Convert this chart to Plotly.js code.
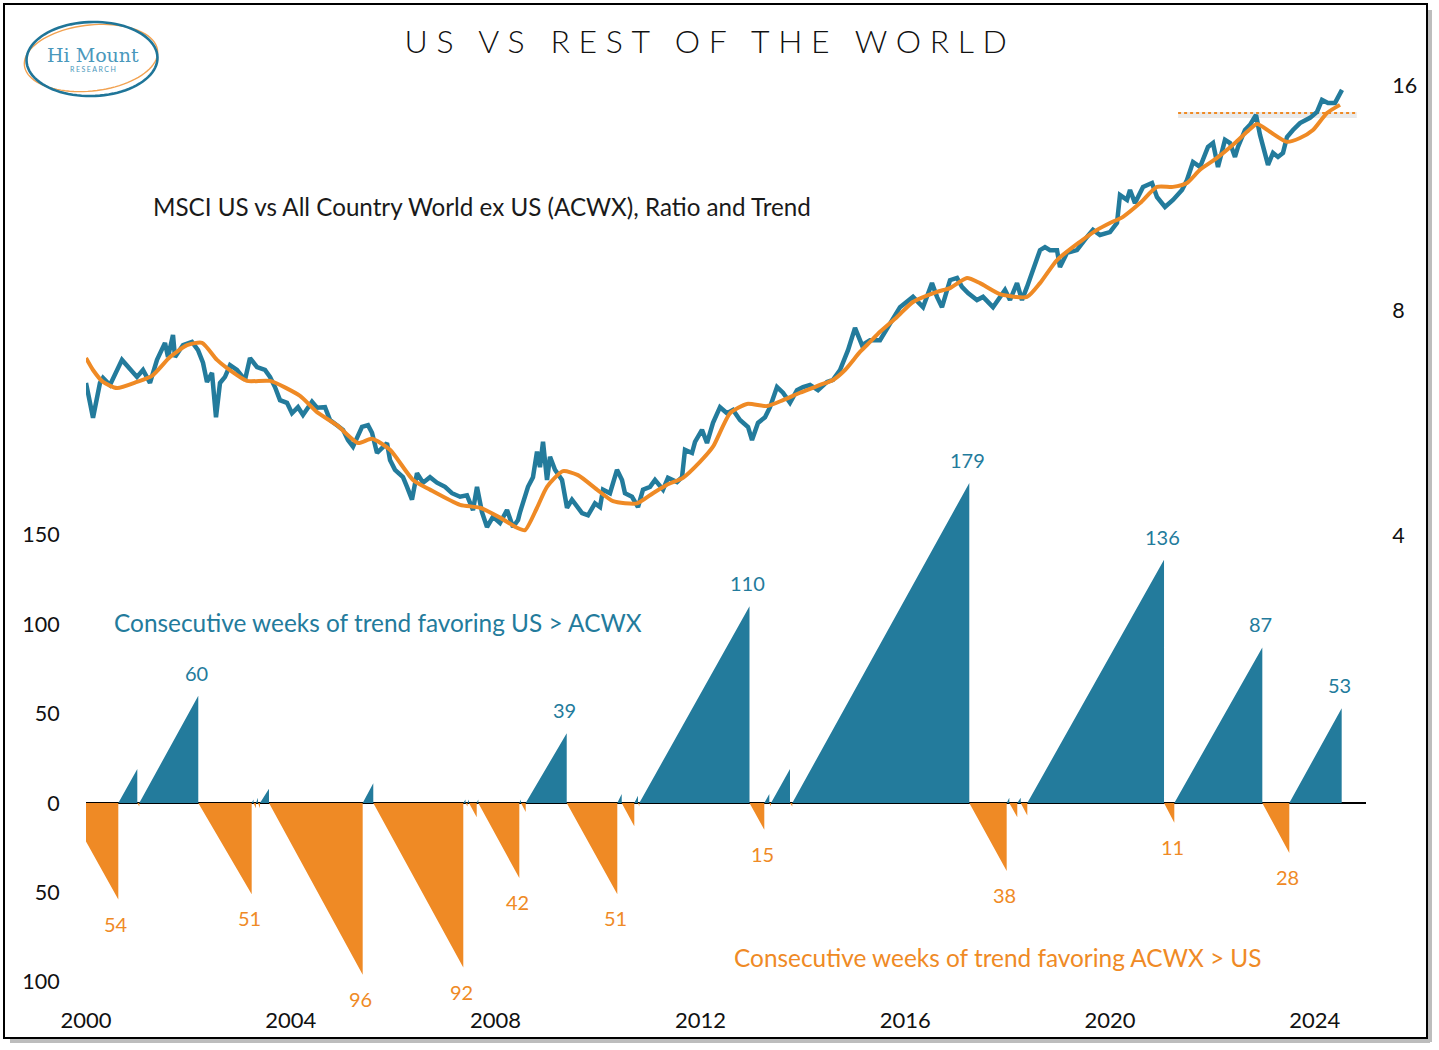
<!DOCTYPE html>
<html><head><meta charset="utf-8">
<script src="https://cdn.plot.ly/plotly-3.0.1.min.js"></script>
<style>html,body{margin:0;padding:0;background:#fff}#chart{width:1439px;height:1050px}</style>
</head><body><div id="chart"></div>
<script>
// ---------- DATA ----------
const ratioYears = [2000.000,2000.137,2000.273,2000.332,2000.469,2000.605,2000.703,2000.996,2001.113,2001.250,
2001.387,2001.543,2001.602,2001.699,2001.738,2001.895,2002.070,2002.188,2002.285,2002.363,
2002.461,2002.539,2002.617,2002.715,2002.813,2002.949,2003.105,2003.203,2003.340,2003.496,
2003.594,2003.691,2003.789,2003.926,2004.023,2004.141,2004.238,2004.414,2004.512,2004.668,
2004.766,2004.902,2005.020,2005.117,2005.215,2005.391,2005.508,2005.586,2005.684,2005.879,
2005.938,2006.035,2006.191,2006.270,2006.367,2006.465,2006.582,2006.719,2006.855,2007.012,
2007.148,2007.305,2007.441,2007.559,2007.637,2007.734,2007.832,2007.949,2008.086,2008.223,
2008.340,2008.438,2008.477,2008.633,2008.730,2008.809,2008.867,2008.926,2009.004,2009.063,
2009.160,2009.297,2009.395,2009.492,2009.688,2009.805,2009.941,2010.039,2010.098,2010.234,
2010.371,2010.469,2010.527,2010.664,2010.781,2010.879,2011.016,2011.113,2011.270,2011.367,
2011.543,2011.641,2011.699,2011.836,2011.895,2012.031,2012.129,2012.246,2012.383,2012.520,
2012.637,2012.773,2012.930,2013.008,2013.125,2013.262,2013.359,2013.496,2013.613,2013.750,
2013.887,2014.004,2014.141,2014.297,2014.473,2014.590,2014.727,2014.883,2015.020,2015.156,
2015.313,2015.508,2015.762,2015.898,2016.152,2016.348,2016.523,2016.621,2016.719,2016.875,
2017.012,2017.109,2017.227,2017.402,2017.520,2017.715,2017.949,2018.047,2018.184,2018.281,
2018.379,2018.496,2018.633,2018.730,2018.828,2018.965,2019.023,2019.160,2019.355,2019.551,
2019.668,2019.805,2020.000,2020.137,2020.195,2020.332,2020.391,2020.488,2020.645,2020.820,
2020.918,2021.074,2021.230,2021.406,2021.504,2021.621,2021.758,2021.914,2022.012,2022.109,
2022.246,2022.344,2022.441,2022.500,2022.637,2022.734,2022.852,2022.930,2023.027,2023.086,
2023.184,2023.281,2023.379,2023.457,2023.574,2023.711,2023.906,2024.043,2024.141,2024.258,
2024.395,2024.453,2024.531];
const ratioValues = [6.39,5.74,6.39,6.49,6.35,6.65,6.86,6.51,6.65,6.39,
6.86,7.23,6.92,7.41,6.92,7.18,7.25,7.07,6.80,6.41,
6.59,5.75,6.39,6.51,6.75,6.65,6.45,6.90,6.71,6.65,
6.51,6.31,6.06,6.01,5.82,5.93,5.79,6.03,5.92,5.93,
5.70,5.61,5.53,5.36,5.25,5.58,5.61,5.48,5.15,5.31,
5.04,4.89,4.78,4.64,4.46,4.84,4.70,4.78,4.70,4.64,
4.55,4.50,4.52,4.32,4.64,4.29,4.10,4.23,4.15,4.32,
4.10,4.19,4.29,4.64,4.78,5.17,4.93,5.33,4.74,5.09,
4.89,4.74,4.35,4.46,4.28,4.25,4.41,4.36,4.60,4.55,
4.89,4.74,4.55,4.50,4.36,4.60,4.64,4.74,4.60,4.77,
4.71,4.78,5.20,5.15,5.33,5.53,5.31,5.65,5.93,5.82,
5.88,5.70,5.58,5.36,5.65,5.75,5.93,6.31,6.20,6.01,
6.25,6.31,6.35,6.25,6.41,6.45,6.65,7.07,7.57,7.18,
7.29,7.29,7.76,8.07,8.33,8.07,8.69,8.33,8.07,8.77,
8.83,8.59,8.43,8.25,8.33,8.07,8.51,8.25,8.69,8.25,
8.59,9.05,9.62,9.71,9.62,9.62,9.13,9.54,9.62,10.02,
10.24,10.08,10.17,10.46,11.40,11.23,11.58,11.12,11.69,11.83,
11.33,10.99,11.23,11.58,11.94,12.62,12.43,13.22,13.38,12.43,
13.51,13.38,12.82,13.22,13.93,14.15,14.59,13.72,12.98,12.51,
12.98,12.82,12.98,13.63,13.93,14.23,14.46,14.73,15.28,15.14,
15.14,15.42,15.76];

const trendYears = [2000.000,2000.137,2000.332,2000.605,2000.996,2001.289,2001.641,2001.973,2002.266,2002.559,
2002.754,2003.145,2003.594,2004.180,2004.512,2004.902,2005.313,2005.586,2005.938,2006.387,
2006.719,2007.305,2007.695,2008.086,2008.418,2008.574,2008.809,2009.004,2009.316,2009.609,
2009.980,2010.293,2010.762,2011.074,2011.348,2011.660,2011.992,2012.246,2012.578,2012.910,
2013.301,2013.613,2013.945,2014.336,2014.590,2014.824,2015.117,2015.313,2015.508,2015.840,
2016.152,2016.621,2016.875,2017.207,2017.461,2017.852,2018.379,2018.633,2018.965,2019.414,
2019.746,2020.000,2020.254,2020.586,2020.918,2021.230,2021.504,2021.758,2022.090,2022.441,
2022.676,2022.871,2023.125,2023.457,2023.711,2023.965,2024.238,2024.492];
const trendValues = [6.90,6.65,6.41,6.29,6.41,6.53,6.92,7.18,7.23,6.86,
6.69,6.43,6.43,6.14,5.84,5.61,5.31,5.38,5.20,4.74,
4.60,4.39,4.35,4.22,4.09,4.06,4.35,4.64,4.87,4.81,
4.60,4.44,4.41,4.55,4.67,4.77,5.01,5.25,5.82,5.99,
5.95,6.06,6.20,6.35,6.45,6.65,7.03,7.25,7.48,7.83,
8.20,8.46,8.56,8.83,8.69,8.40,8.33,8.69,9.33,9.87,
10.24,10.46,10.66,11.12,11.69,11.69,11.83,12.32,12.78,13.38,
13.85,14.19,13.85,13.43,13.59,13.93,14.68,15.05];

// consecutive-week runs: each run starts where the previous one ends
const runFirstStart = 1999.58;
const runEnds = [2000.631,2001.002,2001.041,2002.193,2003.236,2003.271,2003.320,2003.359,2003.398,2003.574,
2005.404,2005.611,2007.369,2007.412,2007.451,2007.480,2007.631,2007.662,2008.463,2008.496,
2008.588,2009.389,2010.377,2010.463,2010.709,2010.781,2010.807,2012.959,2013.248,2013.346,
2013.379,2013.750,2013.795,2017.252,2017.982,2018.033,2018.189,2018.256,2018.385,2021.055,
2021.256,2022.975,2023.502,2024.525];
const runPeaks = [-54,19,-2,60,-51,2,-3,3,-3,8,
-96,11,-92,2,-2,2,-8,2,-42,2,
-5,39,-51,5,-13,4,-2,110,-15,5,
-2,19,-2,179,-38,3,-8,3,-7,136,
-11,87,-28,53];
const runShowLabel = [1,0,0,1,1,0,0,0,0,0,
1,0,1,0,0,0,0,0,1,0,
0,1,1,0,0,0,0,1,1,0,
0,0,0,1,1,0,0,0,0,1,
1,1,1,1];

const yearTicks = [2000,2004,2008,2012,2016,2020,2024];
const weekTickVals = [-100,-50,0,50,100,150];
const weekTickText = ['100','50','0','50','100','150'];
const ratioTickVals = [4,8,16];
const ratioTickText = ['4','8','16'];
const resistanceLevel = 14.68, resistanceStart = 2021.33, resistanceEnd = 2024.82;

// ---------- STYLE / LAYOUT ----------
const TEAL = '#237B9C', ORANGE = '#EF8A25';
const W = 1439, H = 1050, L = 86, R = 1366, T = 60, B = 1000;
const zeroPx = 803, pxPerWeek = 1.788;
const fourPx = 535, pxPerDoubling = 225;
const fx = p => (p - L) / (R - L);
const fy = p => (B - p) / (B - T);
const FONT = 'Lato, "Open Sans", sans-serif';

// build sawtooth areas
const posX = [], posY = [], negX = [], negY = [];
let s = runFirstStart;
runEnds.forEach((e, i) => {
  const p = runPeaks[i];
  const X = p > 0 ? posX : negX, Y = p > 0 ? posY : negY;
  X.push(s, e, e); Y.push(0, p, 0);
  s = e;
});

const traces = [
  {x: posX, y: posY, type: 'scatter', mode: 'lines', fill: 'tozeroy', fillcolor: TEAL,
   line: {width: 0, color: TEAL}, yaxis: 'y', hoverinfo: 'skip'},
  {x: negX, y: negY, type: 'scatter', mode: 'lines', fill: 'tozeroy', fillcolor: ORANGE,
   line: {width: 0, color: ORANGE}, yaxis: 'y', hoverinfo: 'skip'},
  {x: [resistanceStart, resistanceEnd], y: [resistanceLevel * 0.994, resistanceLevel * 0.994], type: 'scatter', mode: 'lines',
   line: {color: 'rgba(160,160,160,0.22)', width: 6}, yaxis: 'y2', hoverinfo: 'skip'},
  {x: [resistanceStart, resistanceEnd], y: [resistanceLevel, resistanceLevel], type: 'scatter', mode: 'lines',
   line: {color: ORANGE, width: 2, dash: 'dot'}, yaxis: 'y2', hoverinfo: 'skip'},
  {x: ratioYears, y: ratioValues, type: 'scatter', mode: 'lines',
   line: {color: TEAL, width: 4.5}, yaxis: 'y2'},
  {x: trendYears, y: trendValues, type: 'scatter', mode: 'lines',
   line: {color: ORANGE, width: 4, shape: 'spline', smoothing: 0.6}, yaxis: 'y2'}
];

const annotations = [];
runEnds.forEach((e, i) => {
  const p = runPeaks[i];
  if (runShowLabel[i]) {
    annotations.push({x: e, y: p, xref: 'x', yref: 'y', text: String(Math.abs(p)), showarrow: false,
      xanchor: 'center', yanchor: 'middle', xshift: -2, yshift: p > 0 ? 23 : -24,
      font: {family: FONT, size: 20, color: p > 0 ? TEAL : ORANGE}});
  }
});
annotations.push(
  {xref: 'paper', yref: 'paper', x: fx(151), y: fy(207), xanchor: 'left', yanchor: 'middle', showarrow: false,
   text: 'MSCI US vs All Country World ex US (ACWX), Ratio and Trend', font: {family: FONT, size: 24.2, color: '#1a1a1a'}},
  {xref: 'paper', yref: 'paper', x: fx(112), y: fy(622), xanchor: 'left', yanchor: 'middle', showarrow: false,
   text: 'Consecutive weeks of trend favoring US &gt; ACWX', font: {family: FONT, size: 24.4, color: TEAL}},
  {xref: 'paper', yref: 'paper', x: fx(732), y: fy(957), xanchor: 'left', yanchor: 'middle', showarrow: false,
   text: 'Consecutive weeks of trend favoring ACWX &gt; US', font: {family: FONT, size: 24.4, color: ORANGE}},
  {xref: 'paper', yref: 'paper', x: fx(93), y: fy(55), xanchor: 'center', yanchor: 'middle', showarrow: false,
   text: 'Hi Mount', font: {family: '"DejaVu Serif", serif', size: 19, color: '#4A98BC'}},
  {xref: 'paper', yref: 'paper', x: fx(93), y: fy(69), xanchor: 'center', yanchor: 'middle', showarrow: false,
   text: '<span style="letter-spacing:1.5px">RESEARCH</span>', font: {family: FONT, size: 7, color: '#4A98BC'}}
);

function ellipsePath(cx, cy, rx, ry, rotDeg) {
  const a = rotDeg * Math.PI / 180; let d = '';
  for (let k = 0; k <= 90; k++) {
    const t = 2 * Math.PI * k / 90;
    const x = cx + rx * Math.cos(t) * Math.cos(a) - ry * Math.sin(t) * Math.sin(a);
    const y = cy + rx * Math.cos(t) * Math.sin(a) + ry * Math.sin(t) * Math.cos(a);
    d += (k ? 'L' : 'M') + fx(x).toFixed(5) + ',' + fy(y).toFixed(5);
  }
  return d + 'Z';
}

const shapes = [
  {type: 'line', xref: 'paper', yref: 'paper', x0: fx(1430), x1: fx(1430), y0: fy(10), y1: fy(1042), line: {color: '#bdbdbd', width: 4}},
  {type: 'line', xref: 'paper', yref: 'paper', x0: fx(10), x1: fx(1430), y0: fy(1041), y1: fy(1041), line: {color: '#bdbdbd', width: 4}},
  {type: 'rect', xref: 'paper', yref: 'paper', x0: fx(4), x1: fx(1427), y0: fy(1038), y1: fy(4), line: {color: '#000', width: 2}},
  {type: 'path', xref: 'paper', yref: 'paper', path: ellipsePath(91, 58, 67, 33, -6.5), line: {color: '#F2A251', width: 1.4}},
  {type: 'path', xref: 'paper', yref: 'paper', path: ellipsePath(92, 59, 65.5, 37, -1.5), line: {color: '#1F7598', width: 2.6}}
];

const layout = {
  width: W, height: H, autosize: false,
  margin: {l: L, r: W - R, t: T, b: H - B, pad: 0},
  paper_bgcolor: '#fff', plot_bgcolor: 'rgba(0,0,0,0)',
  showlegend: false,
  font: {family: FONT, color: '#111'},
  title: {text: '<span style="letter-spacing:8.6px">US VS REST OF THE WORLD</span>',
    x: 710 / W, xanchor: 'center', y: 1 - 42 / H, yanchor: 'middle', xref: 'container', yref: 'container',
    font: {family: FONT, size: 32, color: '#111', weight: 300}},
  xaxis: {range: [2000, 2025], tickvals: yearTicks, ticktext: yearTicks.map(String),
    showgrid: false, zeroline: false, showline: false, ticks: 'outside', ticklen: 1, tickcolor: 'rgba(0,0,0,0)',
    tickfont: {family: FONT, size: 22, color: '#111'}, fixedrange: true},
  yaxis: {range: [-(B - zeroPx) / pxPerWeek, (zeroPx - T) / pxPerWeek], tickvals: weekTickVals, ticktext: weekTickText,
    showgrid: false, zeroline: true, zerolinecolor: '#000', zerolinewidth: 2, showline: false,
    ticks: 'outside', ticklen: 21, tickcolor: 'rgba(0,0,0,0)',
    tickfont: {family: FONT, size: 21.5, color: '#111'}, fixedrange: true},
  yaxis2: {overlaying: 'y', side: 'right', type: 'log',
    range: [Math.log10(4 * Math.pow(2, -(B - fourPx) / pxPerDoubling)), Math.log10(4 * Math.pow(2, (fourPx - T) / pxPerDoubling))],
    tickvals: ratioTickVals, ticktext: ratioTickText, showgrid: false, zeroline: false, showline: false,
    ticks: 'outside', ticklen: 21, tickcolor: 'rgba(0,0,0,0)',
    tickfont: {family: FONT, size: 21.5, color: '#111'}, fixedrange: true},
  annotations: annotations,
  shapes: shapes
};

Plotly.newPlot('chart', traces, layout, {staticPlot: true, displayModeBar: false});
</script>
</body></html>
